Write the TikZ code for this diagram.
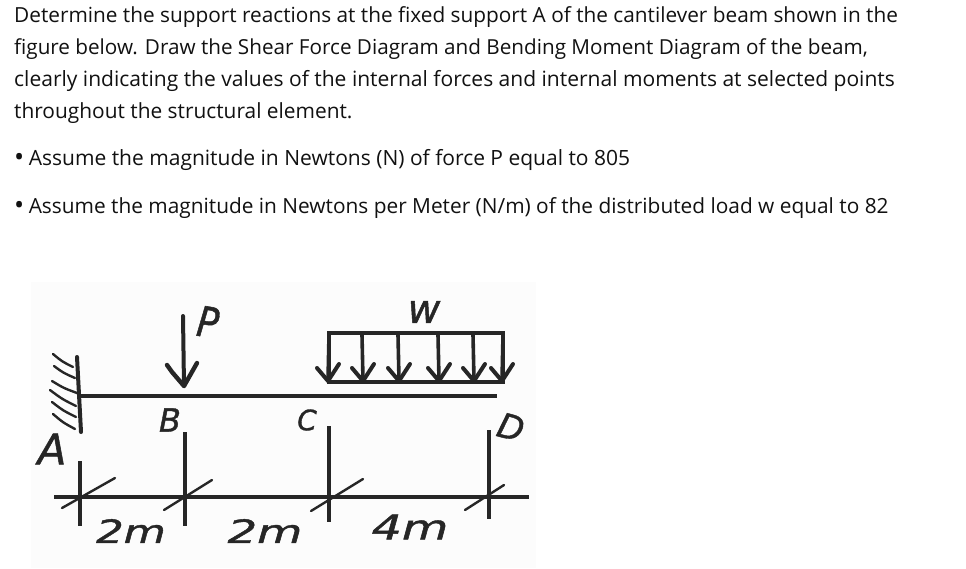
\documentclass[tikz,border=0pt]{standalone}
\usepackage{fontspec}
\setmainfont{Open Sans}
\newfontfamily\handfont[ItalicFeatures={FakeBold=1.2}]{DejaVu Sans}
\definecolor{ink}{HTML}{262626}
\definecolor{panel}{HTML}{FCFCFC}
\definecolor{txt}{HTML}{111111}
\newcommand{\bigbullet}{\raisebox{-1.6pt}{\fontsize{27}{24}\selectfont •}\hspace{-1pt}}
\tikzset{
  para/.style={anchor=base west,inner sep=0pt,text=txt,font=\fontsize{#1}{24}\selectfont},
  hand/.style={inner sep=0pt,text=ink,font=\handfont\itshape\fontsize{#1}{#1}\selectfont},
  thick line/.style={draw=ink,line width=4.6pt},
  mid line/.style={draw=ink,line width=4pt,line cap=round,line join=round},
  thin line/.style={draw=ink,line width=2.4pt,line cap=round},
  head/.style={draw=ink,line width=4pt,line cap=round,line join=round}
}
\begin{document}
\begin{tikzpicture}[x=1pt,y=-1pt]
\useasboundingbox (0,0) rectangle (966,568);
\fill[white] (0,0) rectangle (966,568);
\fill[panel] (31,282) rectangle (536,568);
% paragraph
\node[para=20.8] (l1) at (14,22) {Determine the support reactions at the fixed support A of the cantilever beam shown in the};
\node[para=20.68] (l2) at (14,54) {figure below. Draw the Shear Force Diagram and Bending Moment Diagram of the beam,};
\node[para=21.03] (l3) at (14,86.5) {clearly indicating the values of the internal forces and internal moments at selected points};
\node[para=20.88] (l4) at (14,118) {throughout the structural element.};
\node[para=21] (l5) at (14,165) {\bigbullet{} Assume the magnitude in Newtons (N) of force P equal to 805};
\node[para=20.85] (l6) at (14,213) {\bigbullet{} Assume the magnitude in Newtons per Meter (N/m) of the distributed load w equal to 82};
% beam
\draw[thick line] (79,396) -- (497,396);
% wall
\draw[mid line] (77,357) -- (81,432);
\foreach \xa/\ya/\xb/\yb in {53/354/73/367, 54/366/75/378, 52/381/77/393, 50/390/76/406, 52/402/76/417, 53/414/75/429}
  \draw[thin line] (\xa,\ya) .. controls ({0.5*(\xa+\xb)-1},{0.5*(\ya+\yb)+1}) .. (\xb,\yb);
% force P
\draw[mid line] (183,316) -- (184,386);
\draw[head,line width=4.4pt] (167,365) -- (172,372) -- (184,386) -- (197,363);
% distributed load
\draw[draw=ink,line width=4.4pt,line join=miter] (329,333) rectangle (503,382);
\foreach \x/\t in {329/328,362/363,398/399,438/439,473/474,503/502}{
  \draw[mid line,line width=3.6pt] (\x,335) -- (\t,380);
  \draw[head] ({\t-11},368) -- (\t,381) -- ({\t+11},364);
}
% dimension line
\draw[thick line,line width=4pt] (54,497) -- (529,497);
\draw[thick line,line width=4.4pt] (80,461) -- (80,526);
\draw[thick line,line width=4.4pt] (185,432) -- (185,526);
\draw[thick line,line width=4.4pt] (329,426) -- (329,522);
\draw[thick line,line width=4.4pt] (489,430) -- (489,519);
\draw[thin line] (62,508) -- (115,478);
\draw[thin line] (164,510) -- (212,480);
\draw[thin line] (311,511) -- (363,479);
\draw[thin line] (465,510) -- (504,485);
% labels
\node[hand=42,xscale=.85,rotate=-8] (P) at (208,322) {P};
\node[hand=40] (W) at (424,312) {w};
\node[hand=32] (B) at (170,420) {B};
\node[hand=28] (C) at (307,420) {C};
\node[hand=34,rotate=-15] (D) at (511,427) {D};
\node[hand=42] (A) at (52,449) {A};
\node[hand=32,xscale=1.35] (d1) at (131,531) {2m};
\node[hand=32,xscale=1.45] (d2) at (265,531) {2m};
\node[hand=34,xscale=1.4] (d3) at (410,527) {4m};
\end{tikzpicture}
\end{document}
